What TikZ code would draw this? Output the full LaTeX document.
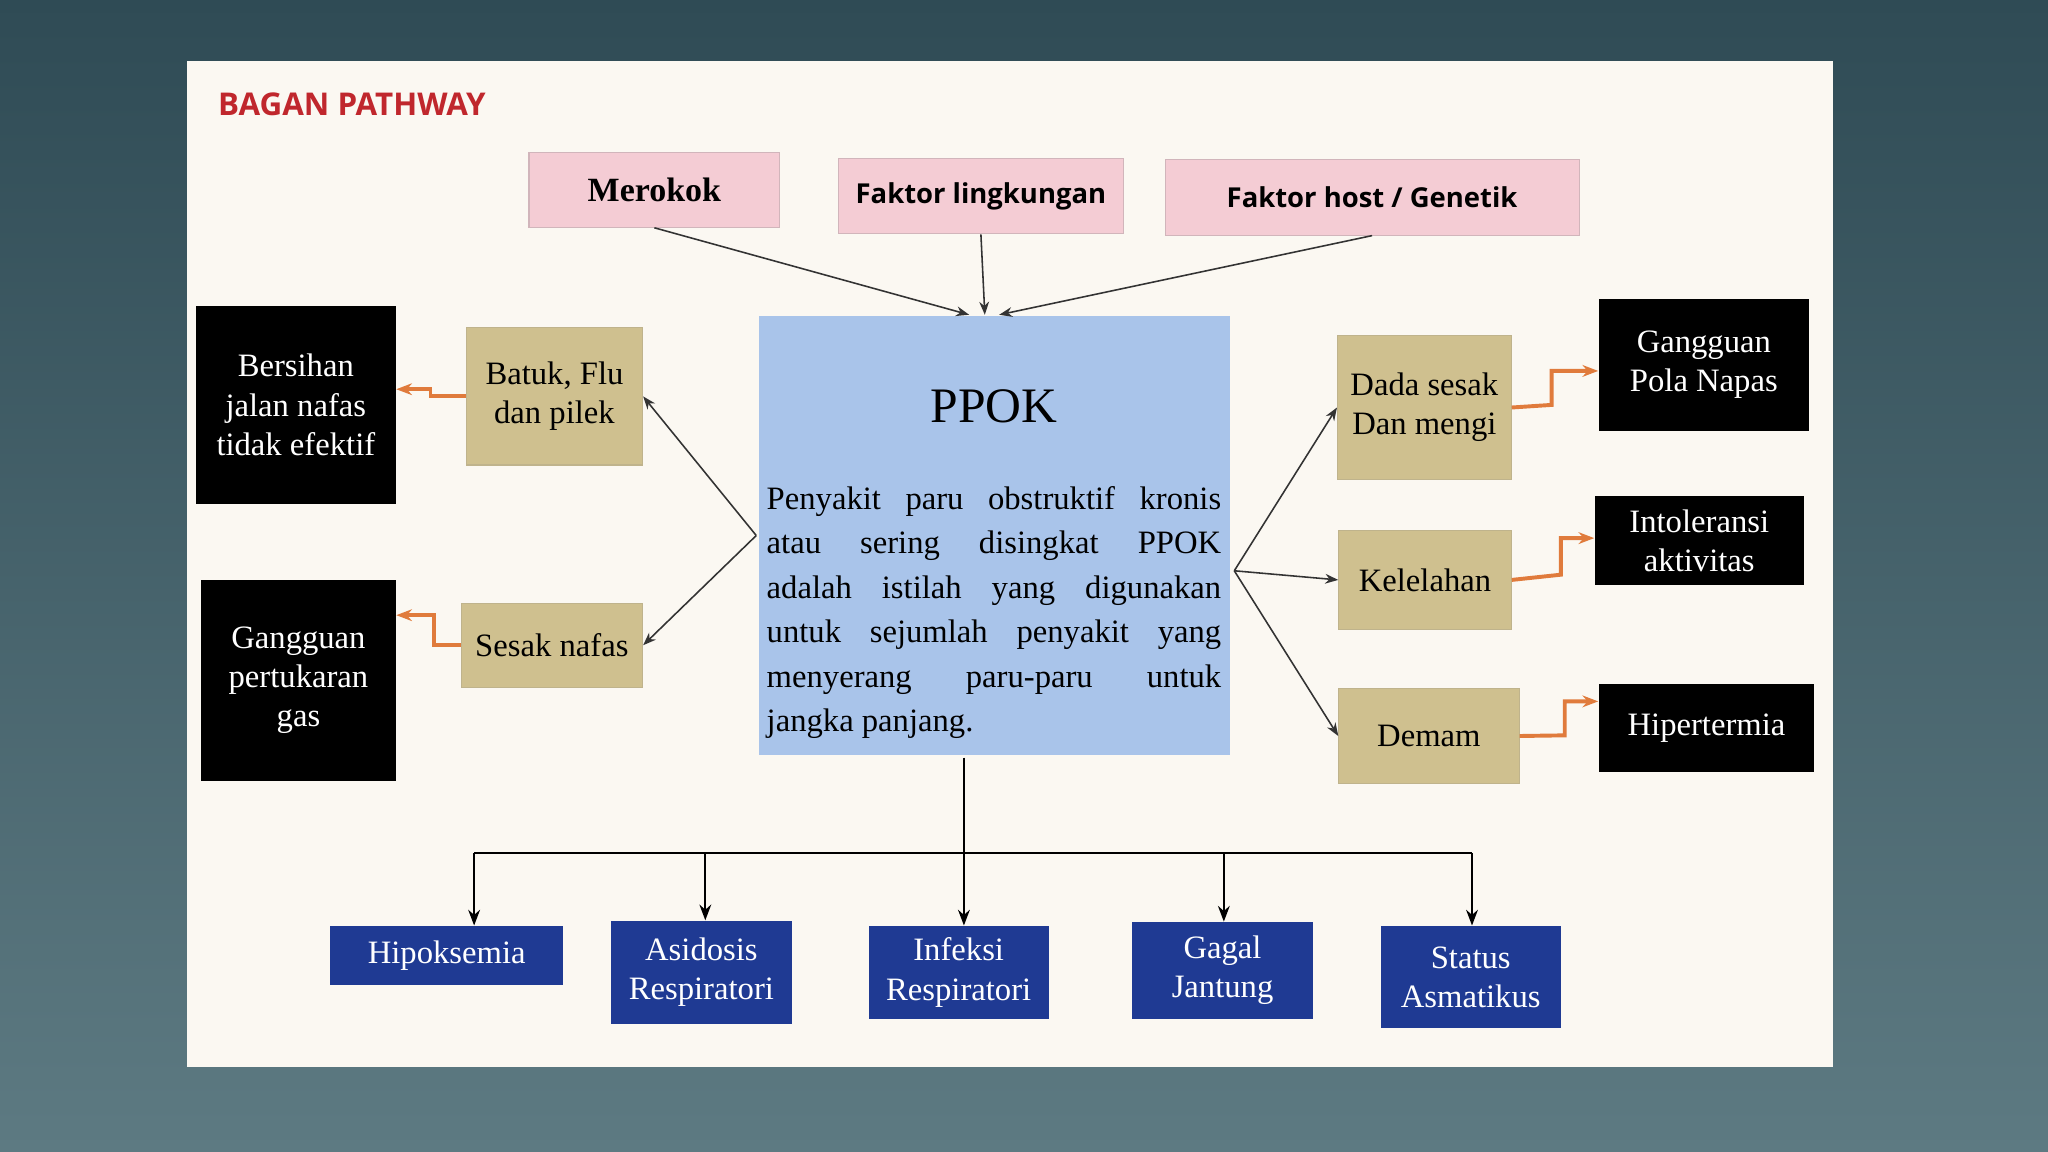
\documentclass[tikz,border=0pt]{standalone}
\usepackage{fontspec}
\setmainfont{Liberation Serif}
\newfontfamily\sans{Open Sans}
\usetikzlibrary{arrows.meta}
\definecolor{card}{HTML}{FBF8F2}
\definecolor{pinkb}{HTML}{F4CCD4}
\definecolor{tan}{HTML}{CFC08F}
\definecolor{ppok}{HTML}{A9C4EA}
\definecolor{navy}{HTML}{1F3A93}
\definecolor{org}{HTML}{E07B3C}
\definecolor{ttl}{HTML}{C0272D}
\definecolor{bgA}{HTML}{2F4B55}
\definecolor{bgB}{HTML}{5D7A82}
\tikzset{
 box/.style={draw=none,inner sep=2pt,align=center,font=\fontsize{12.5}{15}\selectfont},
 pk/.style={box,fill=pinkb,draw=pinkb!70!gray},
 tn/.style={box,fill=tan,draw=tan!80!gray},
 bk/.style={box,fill=black,text=white},
 nv/.style={box,fill=navy,text=white},
 ln/.style={-{Stealth[length=5pt]},black!80,line width=0.6pt},
 oa/.style={-{Stealth[length=6pt]},org,line width=1.5pt},
 ba/.style={-{Stealth[length=6pt]},black,line width=0.9pt},
}
\newcommand{\bx}[7]{\node[#6,minimum width={(#4-#2)*0.5pt},minimum height={(#5-#3)*0.5pt}] (#1) at ({(#2+#4)/2},{(#3+#5)/2}) {#7};}
\newcommand{\jl}[1]{\hbox to 174pt{\spaceskip=0pt plus 1fil\relax #1}}
\begin{document}
\begin{tikzpicture}[x=0.5pt,y=-0.5pt]
\shade[top color=bgA, bottom color=bgB] (0,0) rectangle (1568,882);
\useasboundingbox (0,0) rectangle (1568,882);
\fill[card] (143,47) rectangle (1403,817);
\node[anchor=west,text=ttl,font=\sans\bfseries\fontsize{12}{14}\selectfont] (t) at (160,80) {BAGAN PATHWAY};
\bx{m}{405}{117}{597}{174}{pk,font=\bfseries\fontsize{13}{15}\selectfont}{Merokok}
\bx{fl}{642}{121}{860}{179}{pk,font=\sans\bfseries\fontsize{10.5}{13}\selectfont}{Faktor lingkungan}
\bx{fh}{892}{122}{1209}{180}{pk,font=\sans\bfseries\fontsize{10.5}{13}\selectfont}{Faktor host / Genetik}
\bx{p}{581}{242}{942}{578}{box,fill=ppok}{}
\node[font=\fontsize{19}{22}\selectfont] (pt) at (761,311) {PPOK};
\node[anchor=north,inner sep=0pt,align=left,font=\fontsize{12.5}{17}\selectfont] (pb) at (761,372) {\jl{Penyakit paru obstruktif kronis}\\\jl{atau sering disingkat PPOK}\\\jl{adalah istilah yang digunakan}\\\jl{untuk sejumlah penyakit yang}\\\jl{menyerang paru-paru untuk}\\\hbox to 174pt{jangka panjang.\hfil}};
\bx{b}{357}{251}{492}{356}{tn}{Batuk, Flu\\dan pilek}
\bx{s}{353}{462}{492}{526}{tn}{Sesak nafas}
\bx{bj}{150}{234}{303}{386}{bk}{Bersihan\\jalan nafas\\tidak efektif}
\bx{gp}{154}{444}{303}{598}{bk}{Gangguan\\pertukaran\\gas}
\bx{d}{1024}{257}{1157}{367}{tn}{Dada sesak\\Dan mengi}
\bx{k}{1025}{406}{1157}{482}{tn}{Kelelahan}
\bx{dm}{1025}{527}{1163}{600}{tn}{Demam}
\bx{gn}{1224}{229}{1385}{330}{bk}{Gangguan\\Pola Napas}
\bx{ia}{1221}{380}{1381}{448}{bk}{Intoleransi\\aktivitas}
\bx{ht}{1224}{524}{1389}{591}{bk}{Hipertermia}
\bx{h1}{253}{709}{431}{754}{nv}{Hipoksemia}
\bx{h2}{468}{705}{606}{784}{nv}{Asidosis\\Respiratori}
\bx{h3}{665}{709}{803}{780}{nv}{Infeksi\\Respiratori}
\bx{h4}{867}{706}{1005}{780}{nv}{Gagal\\Jantung}
\bx{h5}{1057}{709}{1195}{787}{nv}{Status\\Asmatikus}
\draw[ln] (m.south) -- (742,241);
\draw[ln] (fl.south) -- (754,241);
\draw[ln] (fh.south) -- (765,241);
\coordinate (pl) at (579,410);
\draw[ln] (pl) -- (b.east);
\draw[ln] (pl) -- (s.east);
\coordinate (pr) at (945,437);
\draw[ln] (pr) -- (d.west);
\draw[ln] (pr) -- (k.west);
\draw[ln] (pr) -- (dm.west);
\draw[oa] (b.west) -- ++(-27,0) |- (bj.east |- 0,298);
\draw[oa] (s.west) -- ++(-20,0) |- (gp.east |- 0,471);
\draw[oa] (d.east) -- (1188,310) |- (gn.west |- 0,284);
\draw[oa] (k.east) -- (1195,440) |- (ia.west |- 0,412);
\draw[oa] (dm.east) -- (1198,563) |- (ht.west |- 0,537);
\draw[ba] (738,580) -- (738,580 |- h3.north);
\draw[black,line width=0.9pt] (363,653) -- (1127,653);
\draw[ba] (363,653) -- (363,653 |- h1.north);
\draw[ba] (540,653) -- (540,653 |- h2.north);
\draw[ba] (937,653) -- (937,653 |- h4.north);
\draw[ba] (1127,653) -- (1127,653 |- h5.north);
\end{tikzpicture}
\end{document}
